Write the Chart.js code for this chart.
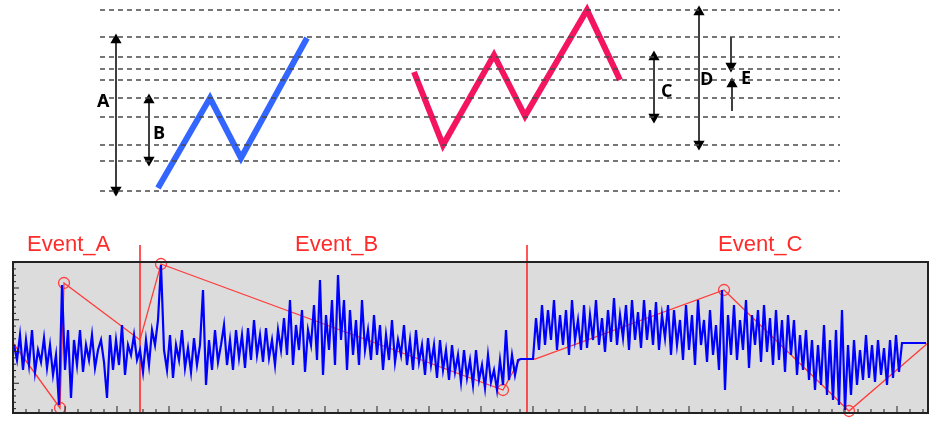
<!DOCTYPE html>
<html>
<head>
<meta charset="utf-8">
<script src="https://cdn.jsdelivr.net/npm/chart.js@4"></script>
<style>
  html, body { margin: 0; padding: 0; background: #fff; overflow: hidden; }
  canvas { display: block; }
</style>
</head>
<body>
<canvas id="chart" width="949" height="428"></canvas>
<script>
// all values in picture coordinates (x right, y down)
const guideLevels = [10, 37, 57, 69, 80, 98, 117, 145, 161, 191];
const guideFrom = 100, guideTo = 840;

const bluePath = [[158, 188], [210, 98], [241, 158], [307, 38]];
const redPath = [[414, 72], [443, 145], [494, 55], [525, 116], [587, 10], [620, 80]];

// arrows: x, y start, y end (head drawn at the ends listed in heads)
const arrows = [
  { x: 116, y1: 40, y2: 190, heads: [true, true] },
  { x: 149, y1: 100, y2: 160, heads: [true, true] },
  { x: 654, y1: 57, y2: 117, heads: [true, true] },
  { x: 699, y1: 12, y2: 144, heads: [true, true] },
  { x: 731, y1: 37, y2: 66, heads: [false, true] },
  { x: 732, y1: 111, y2: 84, heads: [false, true] }
];
const arrowLabels = [['A', 97, 102], ['B', 153, 134], ['C', 661, 92], ['D', 700, 80], ['E', 741, 79]];

// lower panel
const panel = { left: 13, right: 928, top: 262, bottom: 413 };
const signalStartX = 14, signalStep = 3;
const signal = [
  345,360,335,370,340,365,330,372,350,362,
  338,368,345,375,355,405,285,370,330,398,
  340,365,330,372,345,360,335,368,350,340,
  362,398,335,370,340,365,325,375,345,355,
  335,360,350,372,340,365,330,345,320,265,
  350,370,335,378,345,360,330,368,348,372,
  338,365,345,290,385,340,370,330,362,345,
  325,365,340,370,330,358,335,368,328,360,
  320,355,335,362,328,358,340,365,330,350,
  318,355,300,365,325,350,310,372,330,345,
  305,360,280,375,315,350,300,365,275,340,
  300,370,310,355,320,365,300,350,330,360,
  315,355,325,370,335,360,320,362,340,355,
  325,365,340,370,330,362,345,375,338,365,
  345,378,340,370,350,380,345,372,355,382,
  350,378,360,385,350,380,365,388,355,382,
  370,390,360,385,330,380,355,375,360,359,
  359,359,359,359,318,350,305,345,310,340,
  300,350,315,345,310,355,300,340,320,350,
  305,348,315,340,300,345,318,352,310,342,
  298,345,315,338,305,350,300,340,312,348,
  300,340,310,345,302,350,315,338,305,355,
  310,345,320,360,305,350,315,365,300,345,
  320,362,310,355,325,370,290,390,315,355,
  305,360,320,350,300,368,315,345,310,362,
  305,352,318,365,310,360,320,372,315,355,
  320,375,335,370,330,380,340,390,345,385,
  325,395,340,400,330,405,310,410,345,395,
  340,385,350,380,335,378,345,382,340,375,
  348,385,340,378,335,372,343,343,343,343,
  343,343,343,343,343
];
const eventPath = [[13, 343], [60, 408], [64, 283], [140, 340], [161, 264], [503, 390],
                   [520, 359], [535, 359], [724, 290], [849, 411], [928, 343]];
const eventMarks = [[60, 408], [64, 283], [161, 264], [503, 390], [724, 290], [849, 411]];
const eventLines = [140, 527];
const eventLabels = [['Event_A', 27], ['Event_B', 295], ['Event_C', 718]];

const pts = a => a.map(p => ({ x: p[0], y: p[1] }));
const datasets = [];

guideLevels.forEach(y => datasets.push({
  data: [{ x: guideFrom, y }, { x: guideTo, y }],
  borderColor: '#4a4a4a', borderWidth: 1.4, borderDash: [5, 4], pointRadius: 0
}));
datasets.push({ data: pts(bluePath), borderColor: '#3366ff', borderWidth: 6, pointRadius: 0 });
datasets.push({ data: pts(redPath), borderColor: '#f5145f', borderWidth: 6, pointRadius: 0 });
arrows.forEach(a => datasets.push({
  data: [{ x: a.x, y: a.y1 }, { x: a.x, y: a.y2 }],
  borderColor: '#000', backgroundColor: '#000', borderWidth: 1.5,
  pointStyle: 'triangle',
  pointRadius: a.heads.map(h => h ? 5 : 0),
  pointRotation: [a.y1 < a.y2 ? 0 : 180, a.y2 > a.y1 ? 180 : 0]
}));

datasets.push({
  data: signal.map((v, i) => ({ x: signalStartX + i * signalStep, y: v })),
  borderColor: '#0000ff', borderWidth: 2.2, pointRadius: 0
});
datasets.push({ data: pts(eventPath), borderColor: '#ff3b3b', borderWidth: 1.3, pointRadius: 0 });
datasets.push({
  data: pts(eventMarks), showLine: false, pointRadius: 5.5, pointBorderWidth: 1.3,
  pointBorderColor: '#ff4040', pointBackgroundColor: 'rgba(0,0,0,0)'
});
eventLines.forEach(x => datasets.push({
  data: [{ x, y: 245 }, { x, y: panel.bottom }],
  borderColor: '#ff2020', borderWidth: 1.5, pointRadius: 0
}));

const decor = {
  id: 'decor',
  beforeDatasetsDraw(chart) {
    const c = chart.ctx, xs = chart.scales.x, ys = chart.scales.y;
    const l = xs.getPixelForValue(panel.left), r = xs.getPixelForValue(panel.right);
    const t = ys.getPixelForValue(panel.top), b = ys.getPixelForValue(panel.bottom);
    c.save();
    c.fillStyle = '#dcdcdc';
    c.fillRect(l, t, r - l, b - t);
    c.restore();
  },
  afterDatasetsDraw(chart) {
    const c = chart.ctx, xs = chart.scales.x, ys = chart.scales.y;
    const l = xs.getPixelForValue(panel.left), r = xs.getPixelForValue(panel.right);
    const t = ys.getPixelForValue(panel.top), b = ys.getPixelForValue(panel.bottom);
    c.save();
    c.strokeStyle = '#222';
    c.lineWidth = 2;
    c.strokeRect(l, t, r - l, b - t);
    c.lineWidth = 1;
    c.beginPath();
    for (let k = 0; panel.left + k * 13 <= panel.right; k++) {
      const x = xs.getPixelForValue(panel.left + k * 13);
      c.moveTo(x, b); c.lineTo(x, b - (k % 4 === 0 ? 7 : 4));
    }
    for (let k = -4; 288 + k * 6.35 < panel.bottom; k++) {
      const y = ys.getPixelForValue(288 + k * 6.35);
      if (y <= t) continue;
      c.moveTo(l, y); c.lineTo(l + ((k % 5 + 5) % 5 === 0 ? 6 : 3), y);
    }
    c.stroke();

    c.fillStyle = '#000';
    c.font = 'bold 18px "Open Sans", sans-serif';
    c.textBaseline = 'middle';
    arrowLabels.forEach(([s, x, y]) => c.fillText(s, xs.getPixelForValue(x), ys.getPixelForValue(y)));

    c.fillStyle = '#ff2a2a';
    c.font = '22px "Liberation Sans", Arial, sans-serif';
    eventLabels.forEach(([s, x]) => c.fillText(s, xs.getPixelForValue(x), ys.getPixelForValue(245)));
    c.restore();
  }
};

new Chart(document.getElementById('chart'), {
  type: 'line',
  data: { datasets },
  options: {
    responsive: false,
    animation: false,
    devicePixelRatio: 1,
    layout: { padding: 0, autoPadding: false },
    plugins: { legend: { display: false }, tooltip: { enabled: false } },
    elements: { line: { tension: 0, fill: false, borderCapStyle: 'butt' } },
    scales: {
      x: { type: 'linear', min: 0, max: 949, display: false },
      y: { type: 'linear', min: 0, max: 428, reverse: true, display: false }
    }
  },
  plugins: [decor]
});
</script>
</body>
</html>
